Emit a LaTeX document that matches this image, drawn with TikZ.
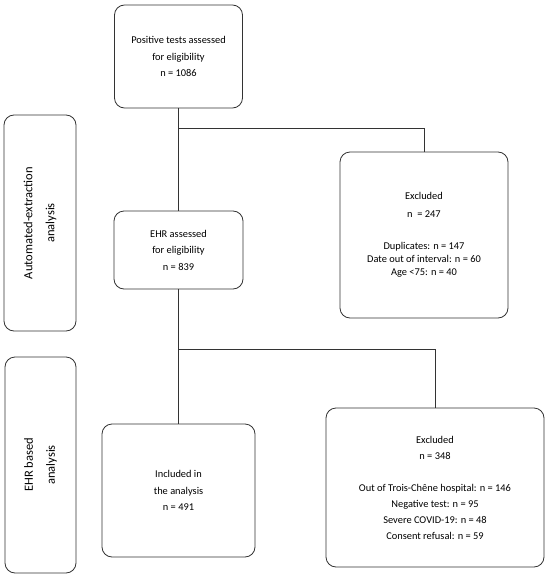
\documentclass[tikz,border=0pt]{standalone}
\usepackage{fontspec}
\setmainfont{Carlito}
\usetikzlibrary{positioning}

\tikzset{
  box/.style={draw=black!80, line width=0.8pt, rounded corners=10pt, align=center, inner sep=0pt,
    font=\fontsize{10.4}{16.5}\selectfont},
  phase/.style={box, rotate=90, font=\fontsize{12.5}{22}\selectfont},
  link/.style={draw=black!80, line width=0.8pt},
}

\begin{document}
\begin{tikzpicture}[x=1pt,y=-1pt]
  \useasboundingbox (0,0) rectangle (550,578);
  % phases
  \node[phase, minimum width=216pt, minimum height=72pt] (autophase) at (40,223)
    {Automated-extraction\\analysis};
  \node[phase, minimum width=216pt, minimum height=71pt] (ehrphase) at (40.5,465)
    {EHR based\\analysis};

  % flow
  \node[box, minimum width=128pt, minimum height=103pt] (tests) at (178.5,56.5)
    {Positive tests assessed\\for eligibility\\n = 1086};
  \node[box, minimum width=129pt, minimum height=78pt] (ehr) at (178.5,250)
    {EHR assessed\\for eligibility\\n = 839};
  \node[box, minimum width=153pt, minimum height=133pt] (incl) at (178.5,490.5)
    {Included in\\the analysis\\n = 491};
  \node[box, minimum width=168pt, minimum height=166pt,
    font=\fontsize{10.4}{13}\selectfont] (excla) at (424,235)
    {Excluded\\[5pt]n \ = 247\\[19pt]Duplicates: n = 147\\Date out of interval: n = 60\\Age <75: n = 40};
  \node[box, minimum width=218pt, minimum height=159pt,
    font=\fontsize{10.4}{16}\selectfont] (exclb) at (435,487.5)
    {Excluded\\n = 348\\[16pt]Out of Trois-Chêne hospital: n = 146\\Negative test: n = 95\\Severe COVID-19: n = 48\\Consent refusal: n = 59};

  \coordinate (splita) at (178.5,128);
  \coordinate (splitb) at (178.5,349);
  \draw[link] (tests.south) -- (ehr.north);
  \draw[link] (splita) -| (excla.north);
  \draw[link] (ehr.south) -- (incl.north);
  \draw[link] (splitb) -| (exclb.north);
\end{tikzpicture}
\end{document}
